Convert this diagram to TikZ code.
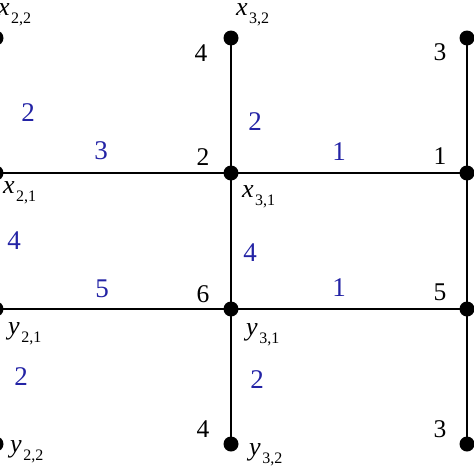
\documentclass[tikz,border=0pt]{standalone}
\usepackage{fontspec}
\setmainfont{Liberation Serif}
\definecolor{wblue}{RGB}{35,35,165}
\newcommand{\vlab}[2]{\textit{#1}\hspace{1.5pt}\raisebox{-8pt}{\fontsize{16}{16}\selectfont #2}}
\begin{document}
\begin{tikzpicture}[x=1pt,y=-1pt,
  vert/.style={circle,fill=black,inner sep=0pt,minimum size=15pt},
  edge/.style={line width=2.8pt},
  wt/.style={text=wblue,font=\fontsize{27}{27}\selectfont,inner sep=0pt},
  deg/.style={text=black,font=\fontsize{25.5}{25.5}\selectfont,inner sep=0pt},
  vl/.style={anchor=base west,inner sep=0pt,font=\fontsize{26}{26}\selectfont}]
\useasboundingbox (0,0) rectangle (474,474);
\clip (0,0) rectangle (474,474);
% vertices
\node[vert] (a1) at (-4,38) {};
\node[vert] (a2) at (-4,173) {};
\node[vert] (a3) at (-4,309) {};
\node[vert] (a4) at (-4,444) {};
\node[vert] (b1) at (231,38) {};
\node[vert] (b2) at (231,173) {};
\node[vert] (b3) at (231,309) {};
\node[vert] (b4) at (231,444) {};
\node[vert] (c1) at (467,38) {};
\node[vert] (c2) at (467,173) {};
\node[vert] (c3) at (467,309) {};
\node[vert] (c4) at (467,444) {};
% edges
\draw[edge] (a1.center) -- (a2.center) -- (a3.center) -- (a4.center);
\draw[edge] (b1.center) -- (b2.center) -- (b3.center) -- (b4.center);
\draw[edge] (c1.center) -- (c2.center) -- (c3.center) -- (c4.center);
\draw[edge] (a2.center) -- (b2.center) -- (c2.center);
\draw[edge] (a3.center) -- (b3.center) -- (c3.center);
% vertex labels
\node[vl] (lx22) at (-2,15) {\vlab{x}{2,2}};
\node[vl] (lx21) at (3,193) {\vlab{x}{2,1}};
\node[vl] (lx32) at (236,15) {\vlab{x}{3,2}};
\node[vl] (lx31) at (242,197) {\vlab{x}{3,1}};
\node[vl] (ly21) at (8,334) {\vlab{y}{2,1}};
\node[vl] (ly22) at (10,452) {\vlab{y}{2,2}};
\node[vl] (ly31) at (246,335) {\vlab{y}{3,1}};
\node[vl] (ly32) at (249,455) {\vlab{y}{3,2}};
% degree labels
\node[deg] (d1) at (201,53) {4};
\node[deg] (d2) at (203,157) {2};
\node[deg] (d3) at (440,52) {3};
\node[deg] (d4) at (440,156) {1};
\node[deg] (d5) at (203,294) {6};
\node[deg] (d6) at (203,429) {4};
\node[deg] (d7) at (440,292) {5};
\node[deg] (d8) at (440,429) {3};
% weights
\node[wt] (w1) at (28,113) {2};
\node[wt] (w2) at (101,151) {3};
\node[wt] (w3) at (255,122) {2};
\node[wt] (w4) at (339,152) {1};
\node[wt] (w5) at (14,241) {4};
\node[wt] (w6) at (102,289) {5};
\node[wt] (w7) at (21,377) {2};
\node[wt] (w8) at (250,253) {4};
\node[wt] (w9) at (339,288) {1};
\node[wt] (w10) at (257,380) {2};
\end{tikzpicture}
\end{document}
